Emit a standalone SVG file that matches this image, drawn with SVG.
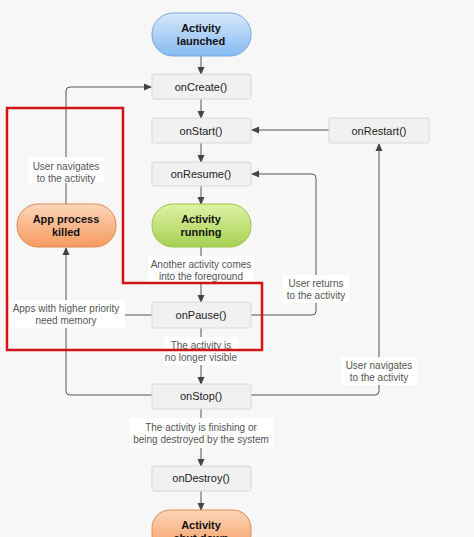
<svg xmlns="http://www.w3.org/2000/svg" width="474" height="537" viewBox="0 0 474 537">
<defs>
<linearGradient id="gBlue" x1="0" y1="0" x2="0" y2="1"><stop offset="0" stop-color="#d6e8fc"/><stop offset="1" stop-color="#86baf2"/></linearGradient>
<linearGradient id="gGreen" x1="0" y1="0" x2="0" y2="1"><stop offset="0" stop-color="#dff2a6"/><stop offset="1" stop-color="#a6d152"/></linearGradient>
<linearGradient id="gOrange" x1="0" y1="0" x2="0" y2="1"><stop offset="0" stop-color="#fdd6b8"/><stop offset="1" stop-color="#f69a60"/></linearGradient>
<marker id="ah" markerWidth="8" markerHeight="8" refX="7" refY="4" orient="auto" markerUnits="userSpaceOnUse"><path d="M0,0.5 L8,4 L0,7.5 z" fill="#444"/></marker>
</defs>
<style>
.box{fill:#f1f1f1;stroke:#d8d8d8;stroke-width:1}
.bt{font-family:"Liberation Sans",Arial,sans-serif;font-size:11px;fill:#222;text-anchor:middle}
.pt{font-family:"Liberation Sans",Arial,sans-serif;font-size:11px;font-weight:bold;fill:#111;text-anchor:middle}
.lt{font-family:"Liberation Sans",Arial,sans-serif;font-size:10px;fill:#555;text-anchor:middle}
.lb{fill:#ffffff}
.c{fill:none;stroke:#555;stroke-width:1}
.ca{fill:none;stroke:#555;stroke-width:1;marker-end:url(#ah)}
</style>
<rect x="0" y="0" width="474" height="537" fill="#f7f7f7"/>

<g id="connectors">
<line class="ca" x1="201" y1="56" x2="201" y2="74"/>
<line class="ca" x1="201" y1="99" x2="201" y2="118"/>
<line class="ca" x1="201" y1="143" x2="201" y2="162"/>
<line class="ca" x1="201" y1="186" x2="201" y2="204"/>
<line class="ca" x1="201" y1="247" x2="201" y2="302"/>
<line class="ca" x1="201" y1="328" x2="201" y2="384"/>
<line class="ca" x1="201" y1="409" x2="201" y2="466"/>
<line class="ca" x1="201" y1="491" x2="201" y2="510"/>
<line class="ca" x1="329" y1="130" x2="252" y2="130"/>
<path class="ca" d="M66,204 V91 Q66,87 70,87 H151"/>
<path class="ca" d="M152,315 H66 V248"/>
<path class="c" d="M66,315 V391 Q66,395 70,395 H152"/>
<path class="ca" d="M251,315 H312 Q316,315 316,311 V178 Q316,174 312,174 H252"/>
<path class="ca" d="M251,395 H375 Q379,395 379,391 V144"/>
</g>

<g id="labels">
<rect class="lb" x="28" y="157" width="76" height="26"/>
<text class="lt" x="66" y="170">User navigates</text>
<text class="lt" x="66" y="182">to the activity</text>
<rect class="lb" x="10" y="300" width="115" height="28"/>
<text class="lt" x="66" y="312">Apps with higher priority</text>
<text class="lt" x="66" y="324">need memory</text>
<rect class="lb" x="148" y="256" width="106" height="28"/>
<text class="lt" x="201" y="268">Another activity comes</text>
<text class="lt" x="201" y="280">into the foreground</text>
<rect class="lb" x="283" y="275" width="67" height="28"/>
<text class="lt" x="316" y="287">User returns</text>
<text class="lt" x="316" y="299">to the activity</text>
<rect class="lb" x="164" y="337" width="74" height="28"/>
<text class="lt" x="201" y="349">The activity is</text>
<text class="lt" x="201" y="361">no longer visible</text>
<rect class="lb" x="341" y="357" width="76" height="28"/>
<text class="lt" x="379" y="369">User navigates</text>
<text class="lt" x="379" y="381">to the activity</text>
<rect class="lb" x="129" y="418" width="144" height="30"/>
<text class="lt" x="201" y="431">The activity is finishing or</text>
<text class="lt" x="201" y="443">being destroyed by the system</text>
</g>

<g id="red-outline">
<path d="M7,108 H123 V283 H262 V350 H7 Z" fill="none" stroke="#d31414" stroke-width="2.5"/>
</g>

<g id="activity-launched">
<rect x="152" y="13" width="99" height="43" rx="21" fill="url(#gBlue)" stroke="#78a6da"/>
<text class="pt" x="201" y="32">Activity</text>
<text class="pt" x="201" y="45">launched</text>
</g>
<g id="onCreate">
<rect class="box" x="152" y="74" width="99" height="25" rx="2"/>
<text class="bt" x="201" y="91">onCreate()</text>
</g>
<g id="onStart">
<rect class="box" x="152" y="118" width="99" height="25" rx="2"/>
<text class="bt" x="201" y="135">onStart()</text>
</g>
<g id="onRestart">
<rect class="box" x="329" y="118" width="100" height="25" rx="2"/>
<text class="bt" x="379" y="135">onRestart()</text>
</g>
<g id="onResume">
<rect class="box" x="152" y="162" width="99" height="24" rx="2"/>
<text class="bt" x="201" y="178">onResume()</text>
</g>
<g id="activity-running">
<rect x="152" y="204" width="99" height="43" rx="21" fill="url(#gGreen)" stroke="#9cc24a"/>
<text class="pt" x="201" y="223">Activity</text>
<text class="pt" x="201" y="236">running</text>
</g>
<g id="app-process-killed">
<rect x="17" y="204" width="99" height="43" rx="21" fill="url(#gOrange)" stroke="#e08a52"/>
<text class="pt" x="66" y="223">App process</text>
<text class="pt" x="66" y="236">killed</text>
</g>
<g id="onPause">
<rect class="box" x="152" y="302" width="99" height="26" rx="2"/>
<text class="bt" x="201" y="319">onPause()</text>
</g>
<g id="onStop">
<rect class="box" x="152" y="384" width="99" height="25" rx="2"/>
<text class="bt" x="201" y="400">onStop()</text>
</g>
<g id="onDestroy">
<rect class="box" x="152" y="466" width="99" height="25" rx="2"/>
<text class="bt" x="201" y="482">onDestroy()</text>
</g>
<g id="activity-shut-down">
<rect x="152" y="510" width="99" height="43" rx="18" fill="url(#gOrange)" stroke="#e08a52"/>
<text class="pt" x="201" y="529">Activity</text>
<text class="pt" x="201" y="542">shut down</text>
</g>
</svg>
